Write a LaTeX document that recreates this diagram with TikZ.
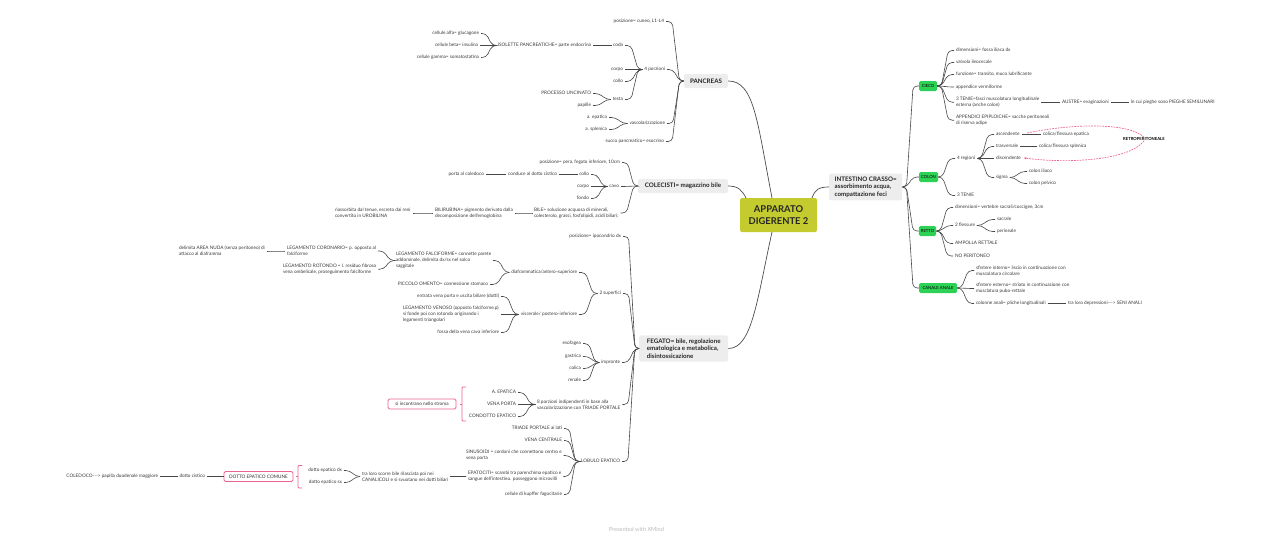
\documentclass[tikz,border=0pt]{standalone}
\usepackage{fontspec}
\setmainfont{Lato}
\usetikzlibrary{calc,arrows.meta}
\definecolor{centro}{HTML}{C3CB2E}
\definecolor{tag}{HTML}{2DD155}
\definecolor{rosa}{HTML}{EC6496}
\begin{document}
\begin{tikzpicture}[x=1pt,y=-1pt]
    % Stili
    \tikzstyle{leaf}=[font=\fontsize{4.7}{6}\selectfont, text=black!78, inner sep=0pt, outer xsep=2pt, align=left, yshift=-0.5pt]
    \tikzstyle{lleaf}=[leaf, anchor=east, xshift=2pt, text height=3.5pt, text depth=1.1pt]
    \tikzstyle{rleaf}=[leaf, anchor=west, xshift=-2pt, text height=3.5pt, text depth=1.1pt]
    \tikzstyle{rmulti}=[leaf, anchor=west, xshift=-2pt]
    \tikzstyle{topic}=[fill=black!7, rounded corners=2pt, text=black!85, font=\fontsize{6.2}{7.7}\selectfont\bfseries, align=left, minimum height=14pt, inner xsep=5.5pt, inner ysep=3pt]
    \tikzstyle{tagbox}=[fill=tag, rounded corners=1.5pt, text=black, font=\fontsize{4.2}{5}\selectfont, minimum height=10pt, inner xsep=2pt, inner ysep=0pt]
    \tikzstyle{pinkbox}=[draw=rosa, fill=white, rounded corners=1.5pt, line width=0.9pt, text=black!80, font=\fontsize{4.7}{6}\selectfont, minimum height=10pt, inner xsep=3pt, inner ysep=0pt]
    \tikzstyle{link}=[draw=black!72, line width=0.6pt, rounded corners=4pt, to path={let \p1=(\tikztostart), \p2=(\tikztotarget) in -- ({\x2+0.75*(\x1-\x2)},\y1) -- ({\x2+0.35*(\x1-\x2)},\y2) -- (\tikztotarget)}]
    \tikzstyle{mainlink}=[draw=black!70, line width=0.7pt]
    \tikzstyle{brace}=[draw=rosa, line width=0.8pt, rounded corners=1pt]
    \tikzstyle{relation}=[draw=rosa, line width=0.7pt, dash pattern=on 1.8pt off 1pt]

    \useasboundingbox (0,0) rectangle (1280,538);

    % Centro
    \node[fill=centro, rounded corners=2pt, minimum width=77pt, minimum height=34pt, align=center, text=black!85, inner sep=0pt, font=\fontsize{9.4}{12}\selectfont\bfseries] (centro) at (778.5,215) {APPARATO\\ DIGERENTE 2};
    \coordinate (cenTop) at (772,198);
    \coordinate (cenBot) at (772,232);
    \coordinate (cenLeft) at (746,198);
    \coordinate (cenRight) at (812,198);

    % Pancreas
    \node[topic, minimum width=44pt] (pancreas) at (706,81) {PANCREAS};
    \node[lleaf] (panPos) at (664,21) {posizione= cuneo, L1-L4};
    \node[lleaf] (panPorz) at (665,69) {4 porzioni};
    \node[lleaf] (panVasc) at (665,123) {vascolarizzazione};
    \node[lleaf] (panSucco) at (664,141) {succo pancreatico= esocrino};
    \node[lleaf] (panCoda) at (623,45) {coda};
    \node[lleaf] (panCorpo) at (623,69) {corpo};
    \node[lleaf] (panCollo) at (623,81) {collo};
    \node[lleaf] (panTesta) at (623,99) {testa};
    \node[lleaf] (panIsol) at (591,45) {ISOLETTE PANCREATICHE= parte endocrina};
    \node[lleaf] (panAlfa) at (479,33) {cellule alfa= glucagone};
    \node[lleaf] (panBeta) at (478,45) {cellule beta= insulina};
    \node[lleaf] (panGamma) at (479,57) {cellule gamma= somatostatina};
    \node[lleaf] (panUncin) at (591,93) {PROCESSO UNCINATO};
    \node[lleaf] (panPap) at (591,105) {papille};
    \node[lleaf] (panEpat) at (607,117) {a. epatica};
    \node[lleaf] (panSplen) at (607,129) {a. splenica};

    % Colecisti
    \node[topic, minimum width=90pt] (colecisti) at (683,186) {COLECISTI= magazzino bile};
    \node[lleaf] (colPos) at (620,162) {posizione= pera, fegato inferiore, 10cm};
    \node[lleaf] (colCavo) at (619,186) {cavo};
    \node[lleaf] (colCollo) at (589,174) {collo};
    \node[lleaf] (colCorpo) at (589,186) {corpo};
    \node[lleaf] (colFondo) at (589,198) {fondo};
    \node[lleaf] (colDotto) at (557,174) {conduce al dotto cistico};
    \node[lleaf] (colPorta) at (484,174) {porta al coledoco};
    \node[rmulti] (colBile) at (534,212.5) {BILE= soluzione acquosa di minerali,\\colesterolo, grassi, fosfolipidi, acidi biliari;};
    \node[rmulti] (colBili) at (435,212.5) {BILIRUBINA= pigmento derivato dalla\\decomposizione dell'emoglobina};
    \node[rmulti] (colRiass) at (335,212.5) {riassorbita dal tenue, escreto dai reni\\convertito in UROBILINA};

    % Fegato
    \node[topic, anchor=west, minimum width=89pt] (fegato) at (639,348.5) {FEGATO= bile, regolazione\\ematologica e metabolica,\\disintossicazione};
    \node[lleaf] (fegPos) at (621,236) {posizione= ipocondrio dx};
    \node[lleaf] (fegSup) at (621,293) {2 superfici};
    \node[lleaf] (fegDiaf) at (577,272) {diaframmatica/antero-superiore};
    \node[lleaf] (fegVisc) at (577,314) {viscerale/ postero-inferiore};
    \node[rmulti] (fegFalc) at (396,260) {LEGAMENTO FALCIFORME= connette parete\\addominale, delimita dx/sx nel solco\\saggitale};
    \node[lleaf] (fegOment) at (488,284) {PICCOLO OMENTO= connessione stomaco};
    \node[rmulti] (fegCoron) at (287,250.5) {LEGAMENTO CORONARIO= p. opposto al\\falciforme};
    \node[rmulti] (fegRot) at (283,268.7) {LEGAMENTO ROTONDO = l. residuo fibroso\\vena ombelicale, proseguimento falciforme};
    \node[rmulti] (fegNuda) at (179,250.5) {delimita AREA NUDA (senza peritoneo) di\\attacco al diaframma};
    \node[lleaf] (fegEntr) at (499,296) {entrata vena porta e uscita biliare (dotti)};
    \node[rmulti] (fegVen) at (403,314) {LEGAMENTO VENOSO (opposto falciforme,p)\\si fonde poi con rotondo originando i\\legamenti triangolari};
    \node[lleaf] (fegFossa) at (499,332) {fossa della vena cava inferiore};
    \node[lleaf] (fegImpr) at (620,362) {impronte};
    \node[lleaf] (fegEsof) at (581,343) {esofagea};
    \node[lleaf] (fegGast) at (581,356) {gastrica};
    \node[lleaf] (fegCol) at (581,368) {colica};
    \node[lleaf] (fegRen) at (581,380) {renale};
    \node[rmulti] (fegPorz) at (537,404) {8 porzioni indipendenti in base alla\\vascolarizzazione con TRIADE PORTALE};
    \node[lleaf] (fegArt) at (516,392) {A. EPATICA};
    \node[lleaf] (fegVena) at (516,404) {VENA PORTA};
    \node[lleaf] (fegCond) at (516,416) {CONDOTTO EPATICO};
    \node[pinkbox, minimum width=68pt] (fegStroma) at (422,404) {si incontrano nello stroma};
    \node[lleaf] (fegLob) at (620,461) {LOBULO EPATICO};
    \node[lleaf] (fegTriade) at (562,428) {TRIADE PORTALE ai lati};
    \node[lleaf] (fegCentr) at (562,440) {VENA CENTRALE};
    \node[rmulti] (fegSin) at (466,455) {SINUSOIDI = cordoni che connettono centro e\\vena porta};
    \node[rmulti] (fegEpat) at (468,476) {EPATOCITI= scambi tra parenchima epatico e\\sangue dell'intestino. posseggono microvilli};
    \node[lleaf] (fegKupf) at (562,494) {cellule di kupffer fagocitarie};
    \node[rmulti] (fegTra) at (362,476) {tra loro scorre bile rilasciata poi nei\\CANALICOLI e si svuotano nei dotti biliari};
    \node[lleaf] (fegDx) at (342,470) {dotto epatico dx};
    \node[lleaf] (fegSx) at (342,482) {dotto epatico sx};
    \node[pinkbox, minimum width=69pt] (fegComune) at (258.5,476.5) {DOTTO EPATICO COMUNE};
    \node[lleaf] (fegCist) at (205,476) {dotto cistico};
    \node[lleaf] (fegColed) at (158,476) {COLEDOCO{-}{-}{-}> papilla duodenale maggiore};

    % Intestino crasso
    \node[topic, anchor=west, minimum width=73pt] (intestino) at (829,187) {INTESTINO CRASSO=\\assorbimento acqua,\\compattazione feci};
    \node[tagbox, minimum width=18pt] (cieco) at (928,86) {CIECO};
    \node[tagbox, minimum width=19pt] (colon) at (928.5,177) {COLON};
    \node[tagbox, minimum width=17pt] (retto) at (927.5,231) {RETTO};
    \node[tagbox, minimum width=38pt] (canale) at (938,288) {CANALE ANALE};
    \node[rleaf] (ciDim) at (956,50) {dimensioni= fossa iliaca dx};
    \node[rleaf] (ciVal) at (956,62) {valvola ileocecale};
    \node[rleaf] (ciFun) at (956,74) {funzione= transito, muco lubrificante};
    \node[rleaf] (ciApp) at (956,86.5) {appendice vermiforme};
    \node[rmulti] (ciTen) at (956,101.7) {3 TENIE=fasci muscolatura longitudinale\\esterna (anche colon)};
    \node[rleaf] (ciAus) at (1062,101.7) {AUSTRE= evaginazioni};
    \node[rleaf] (ciPie) at (1131,101.7) {le cui pieghe sono PIEGHE SEMILUNARI};
    \node[rmulti] (ciEpi) at (956,119.7) {APPENDICI EPIPLOICHE= sacche peritoneali\\di riserva adipe};
    \node[rleaf] (coReg) at (957,158) {4 regioni};
    \node[rleaf] (coTen) at (957,195) {3 TENIE};
    \node[rleaf] (coAsc) at (996,134) {ascendente};
    \node[rleaf] (coTra) at (996,146) {trasversale};
    \node[rleaf] (coDis) at (996,158) {discendente};
    \node[rleaf] (coSig) at (996,177) {sigma};
    \node[rleaf] (coEpa) at (1043,134) {colica/flessura epatica};
    \node[rleaf] (coSpl) at (1039,146) {colica/flessura splenica};
    \node[rleaf] (coIli) at (1029,171) {colon iliaco};
    \node[rleaf] (coPel) at (1029,183) {colon pelvico};
    \node[inner sep=0pt, font=\fontsize{4.2}{5}\selectfont\bfseries, text=black] (retro) at (1144,139) {RETROPERITONEALE};
    \node[rleaf] (reDim) at (955,207) {dimensioni= vertebre sacrali/coccigee, 3cm};
    \node[rleaf] (reFle) at (955,225) {2 flessure};
    \node[rleaf] (reSac) at (997,219) {sacrale};
    \node[rleaf] (rePer) at (997,231) {perineale};
    \node[rleaf] (reAmp) at (955,243) {AMPOLLA RETTALE};
    \node[rleaf] (reNo) at (955,255.5) {NO PERITONEO};
    \node[rmulti] (caInt) at (976,270) {sfintere interno= liscio in continuazione con\\muscolatura circolare};
    \node[rmulti] (caEst) at (976,288) {sfintere esterno= striato in continuazione con\\musclatura pubo-rettale};
    \node[rleaf] (caCol) at (976,303) {colonne anali= pliche longitudinali};
    \node[rleaf] (caSen) at (1068,303) {tra loro depressioni{-}{-}{-}> SENI ANALI};

    \node[font=\fontsize{5.6}{7}\selectfont, text=black!28] (xmind) at (636.5,529) {Presented with XMind};

    % Rami principali
    \draw[mainlink] (pancreas.east) .. controls (754,81) and (757,120) .. (cenTop);
    \draw[mainlink] (colecisti.east) .. controls (738,186) and (742,190) .. (cenLeft);
    \draw[mainlink] (fegato.east) .. controls (752,348.5) and (757,300) .. (cenBot);
    \draw[mainlink] (intestino.west) .. controls (818,187) and (815,190) .. (cenRight);

    % Rami a sinistra
    \foreach \from/\to in {pancreas/panPos, pancreas/panPorz, pancreas/panVasc, pancreas/panSucco,
        panPorz/panCoda, panPorz/panCorpo, panPorz/panCollo, panPorz/panTesta,
        panCoda/panIsol, panIsol/panAlfa, panIsol/panBeta, panIsol/panGamma,
        panTesta/panUncin, panTesta/panPap, panVasc/panEpat, panVasc/panSplen,
        colecisti/colPos, colecisti/colCavo, colecisti/colBile,
        colCavo/colCollo, colCavo/colCorpo, colCavo/colFondo,
        colCollo/colDotto, colDotto/colPorta, colBile/colBili, colBili/colRiass,
        fegato/fegPos, fegato/fegSup, fegato/fegImpr, fegato/fegPorz, fegato/fegLob,
        fegSup/fegDiaf, fegSup/fegVisc, fegDiaf/fegFalc, fegDiaf/fegOment,
        fegFalc/fegCoron, fegFalc/fegRot, fegCoron/fegNuda,
        fegVisc/fegEntr, fegVisc/fegVen, fegVisc/fegFossa,
        fegImpr/fegEsof, fegImpr/fegGast, fegImpr/fegCol, fegImpr/fegRen,
        fegPorz/fegArt, fegPorz/fegVena, fegPorz/fegCond,
        fegLob/fegTriade, fegLob/fegCentr, fegLob/fegSin, fegLob/fegEpat, fegLob/fegKupf,
        fegEpat/fegTra, fegTra/fegDx, fegTra/fegSx,
        fegComune/fegCist, fegCist/fegColed}
        \draw[link] (\from.west) to (\to.east);

    % Rami a destra
    \foreach \from/\to in {intestino/cieco, intestino/colon, intestino/retto, intestino/canale,
        cieco/ciDim, cieco/ciVal, cieco/ciFun, cieco/ciApp, cieco/ciTen, cieco/ciEpi,
        ciTen/ciAus, ciAus/ciPie,
        colon/coReg, colon/coTen, coReg/coAsc, coReg/coTra, coReg/coDis, coReg/coSig,
        coAsc/coEpa, coTra/coSpl, coSig/coIli, coSig/coPel,
        retto/reDim, retto/reFle, retto/reAmp, retto/reNo, reFle/reSac, reFle/rePer,
        canale/caInt, canale/caEst, canale/caCol, caCol/caSen}
        \draw[link] (\from.east) to (\to.west);

    % Parentesi rosa
    \draw[brace] (466,387) -- (462,387) -- (462,421) -- (466,421);
    \draw[brace] (462,404) -- (459.5,404);
    \draw[brace] (302,465.5) -- (298,465.5) -- (298,488) -- (302,488);
    \draw[brace] (298,476.5) -- (295.5,476.5);

    % Relazione tratteggiata
    \coordinate (ascFine) at (1027,133);
    \coordinate (disFine) at (1024,158);
    \draw[relation] (retro.north) .. controls (1130,123) and (1075,123) .. (ascFine);
    \draw[relation, -{Stealth[length=2.5pt,width=2.5pt]}] (retro.south) .. controls (1130,160) and (1070,164) .. (disFine);
\end{tikzpicture}
\end{document}
